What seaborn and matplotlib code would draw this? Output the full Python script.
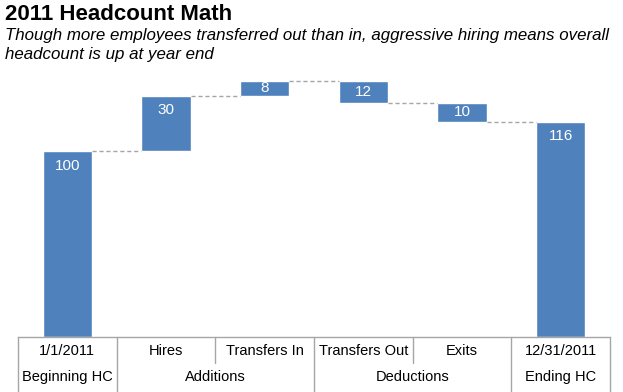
import numpy as np
import matplotlib.pyplot as plt
import matplotlib.transforms as mtransforms
import seaborn as sns

categories = ["1/1/2011", "Hires", "Transfers In", "Transfers Out", "Exits", "12/31/2011"]
values = [100, 30, 8, -12, -10, 116]
is_total = [True, False, False, False, False, True]
groups = ["Beginning HC", "Additions", "Deductions", "Ending HC"]
group_spans = [(0, 0), (1, 2), (3, 4), (5, 5)]

BLUE = "#4F81BD"
GREY = "#A6A6A6"

# running totals -> bar bottoms / heights
bottoms, heights, levels = [], [], []
running = 0
for v, tot in zip(values, is_total):
    if tot:
        bottoms.append(0)
        heights.append(v)
        running = v
    else:
        bottoms.append(running + min(v, 0))
        heights.append(abs(v))
        running += v
    levels.append(running)

sns.set_theme(style="white")
plt.rcParams["font.family"] = ["Liberation Sans", "DejaVu Sans"]
plt.rcParams["text.color"] = "black"

fig = plt.figure(figsize=(6.23, 3.92), dpi=100)
ax = fig.add_axes([18 / 623, 55 / 392, 592 / 623, 260 / 392])

sns.barplot(x=categories, y=heights, color=BLUE, width=0.5, saturation=1, ax=ax)
for patch, b in zip(ax.patches, bottoms):
    patch.set_y(b)

ax.set_xlim(-0.5, 5.5)
ax.set_ylim(0, 140)

# connectors
bw = 0.5
for i in range(len(categories) - 1):
    ax.plot([i + bw / 2, i + 1 - bw / 2], [levels[i], levels[i]],
            color=GREY, lw=1, ls=(0, (3, 2)))

# labels
for i, (v, b, h) in enumerate(zip(values, bottoms, heights)):
    off = min(8, h / 2)
    ax.text(i, b + h - off, f"{abs(v)}", ha="center", va="center",
            color="white", fontsize=11)

ax.set_xticks([])
ax.set_yticks([])
ax.set_xlabel("")
for s in ["top", "right", "left"]:
    ax.spines[s].set_visible(False)
ax.spines["bottom"].set_color(GREY)
ax.spines["bottom"].set_linewidth(1)

# category table below the axis
trans = mtransforms.blended_transform_factory(ax.transData, ax.transAxes)
r1 = -0.054
r2 = -0.154
bot = -0.215
for i, c in enumerate(categories):
    ax.text(i, r1, c, ha="center", va="center", fontsize=10.5, color="black",
            transform=trans, clip_on=False)
for g, (a, b) in zip(groups, group_spans):
    ax.text((a + b) / 2, r2, g, ha="center", va="center", fontsize=10.5,
            color="black", transform=trans, clip_on=False)
group_edges = [-0.5] + [b + 0.5 for _, b in group_spans]
for x in group_edges:
    ax.plot([x, x], [0, bot], color=GREY, lw=1, transform=trans, clip_on=False)
for x in [1.5, 3.5]:
    ax.plot([x, x], [0, -0.1], color=GREY, lw=1, transform=trans, clip_on=False)

fig.text(5 / 623, 1 - 14 / 392, "2011 Headcount Math", fontsize=16,
         fontweight="bold", ha="left", va="center", color="black")
fig.text(5 / 623, 1 - 45 / 392,
         "Though more employees transferred out than in, aggressive hiring means overall\nheadcount is up at year end",
         fontsize=12.2, fontstyle="italic", ha="left", va="center",
         linespacing=1.3, color="black")

fig.savefig("out.png", dpi=100)
